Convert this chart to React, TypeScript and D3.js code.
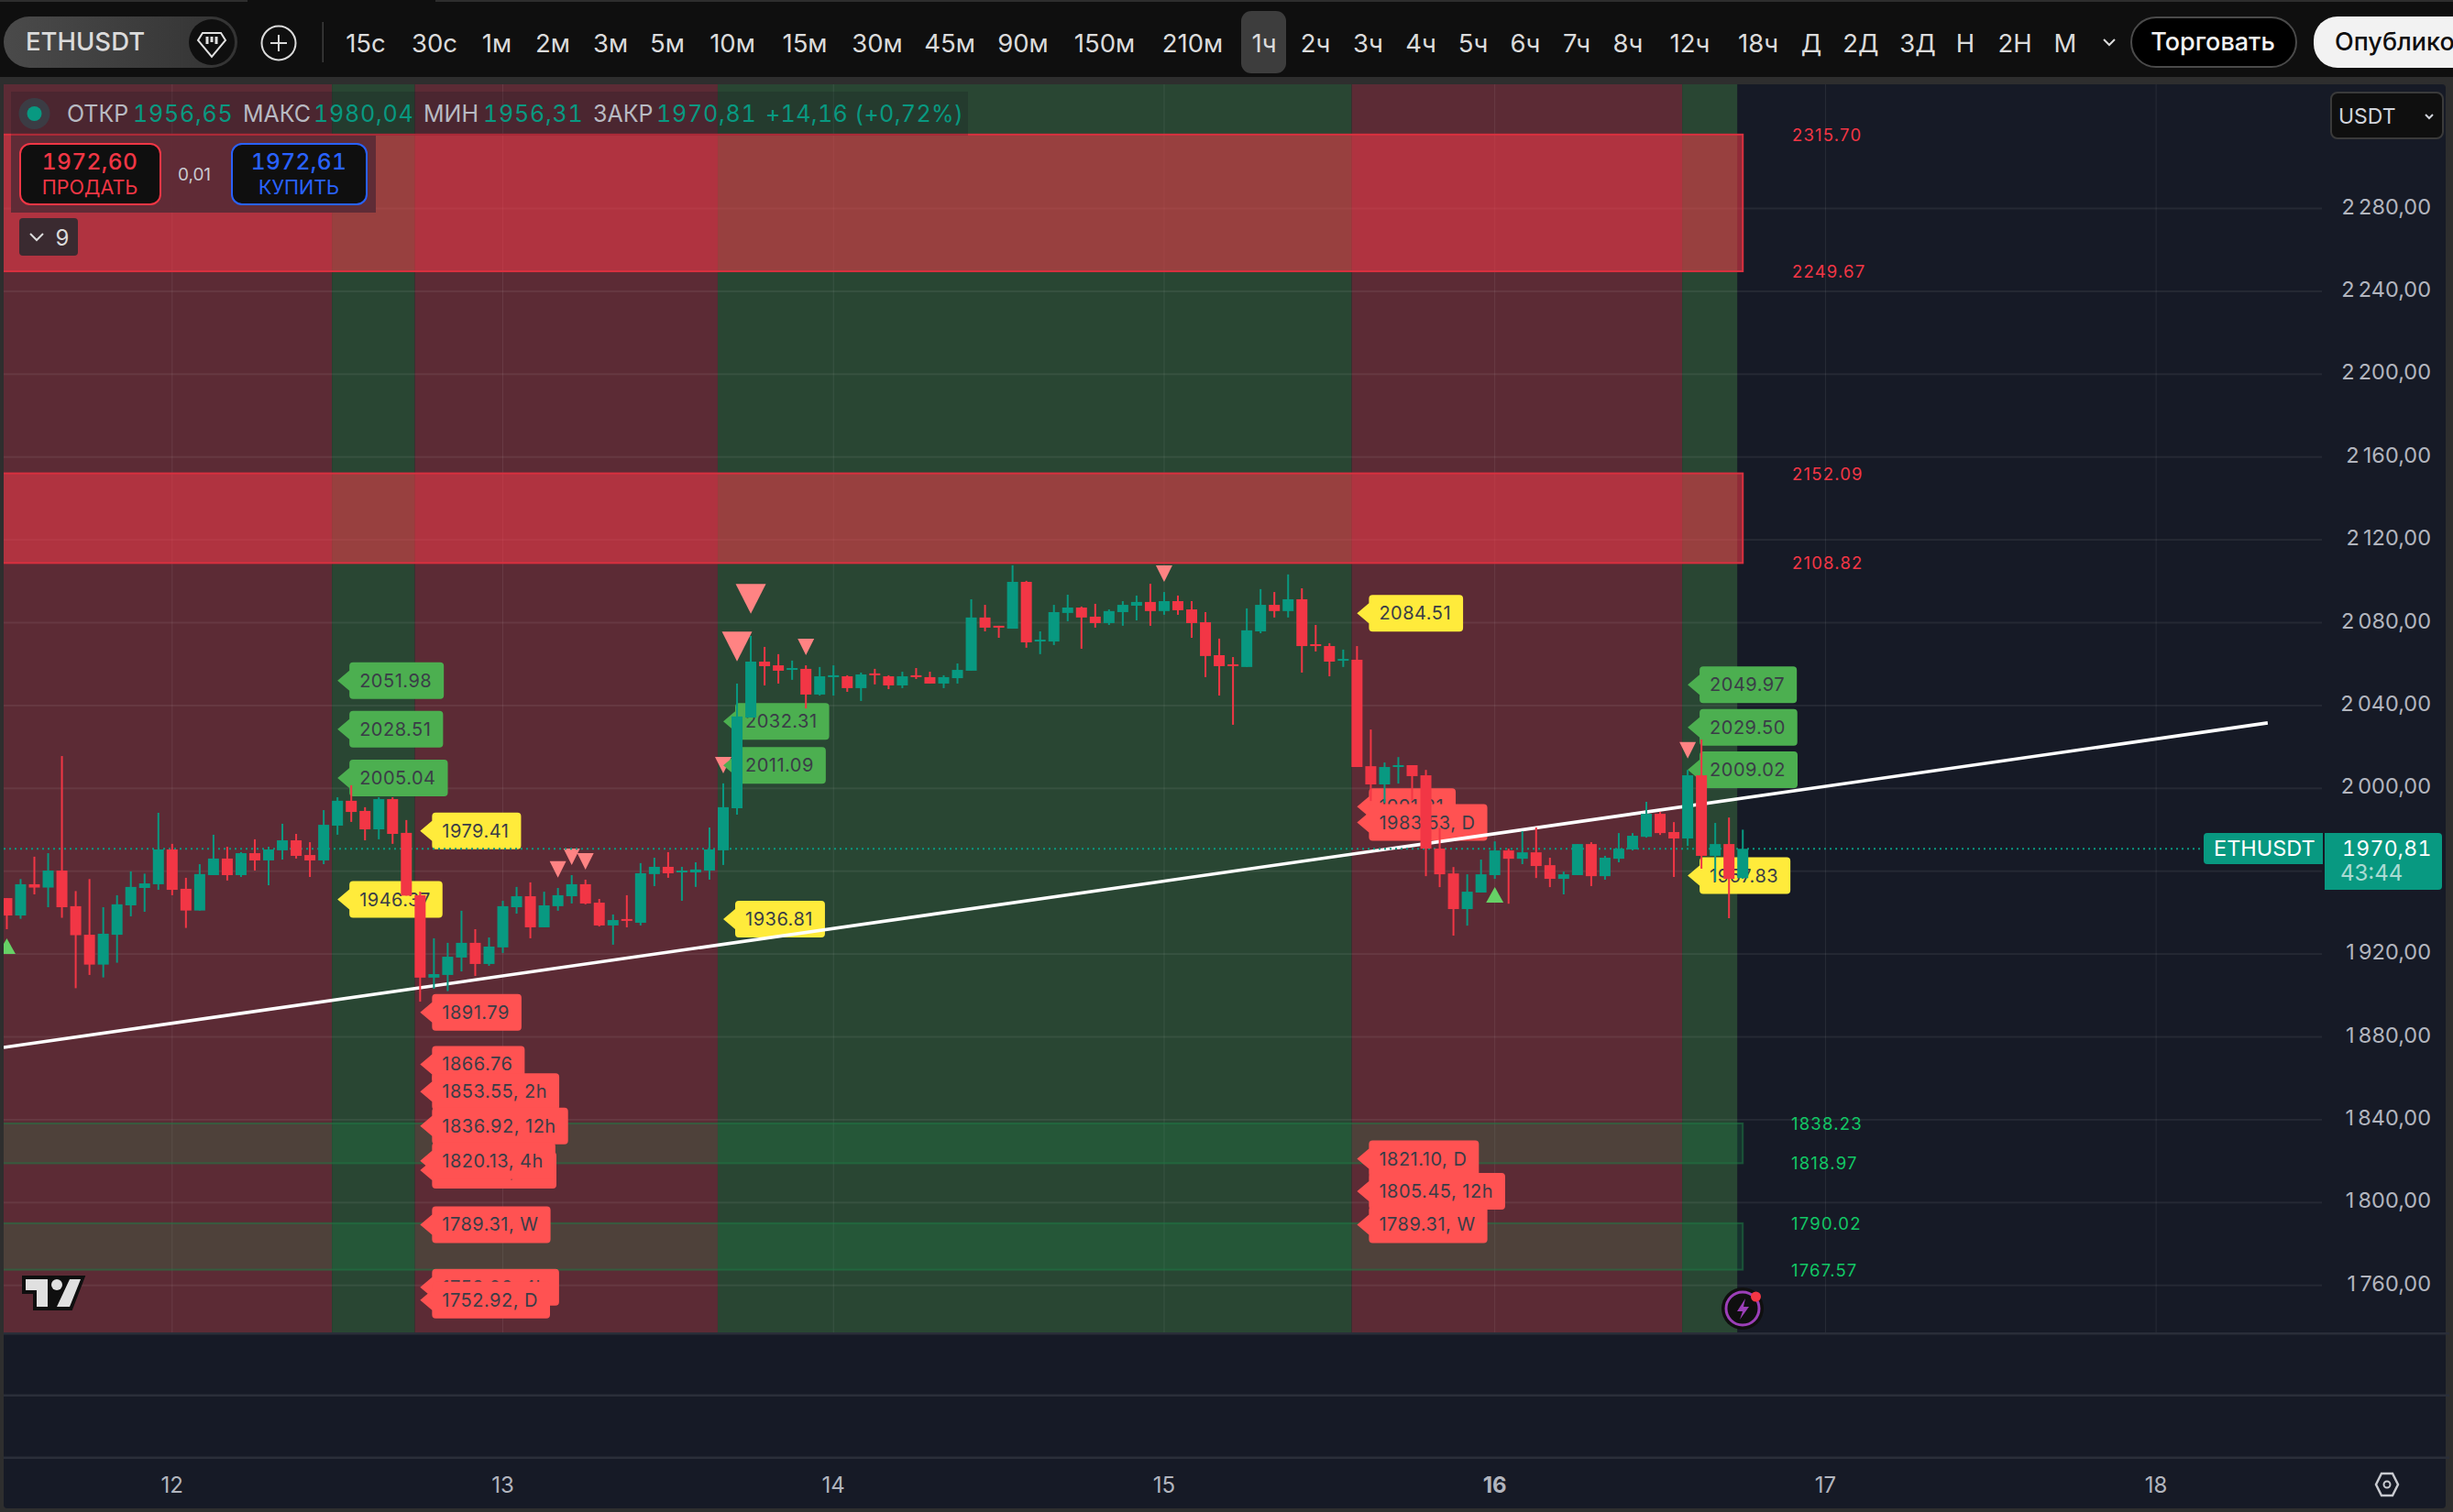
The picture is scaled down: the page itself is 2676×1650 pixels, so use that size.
import React from "react";
import * as d3 from "d3";

const W = 2676, H = 1650;
const FONT = "Inter, Roboto, sans-serif";

// hours since day 12 00:00 of the first candle
const firstBar = -12;
const candleOpen = [1947.0,1938.6,1953.7,1952.1,1960.3,1943.1,1929.3,1914.9,1929.3,1943.5,1951.9,1953.7,1970.5,1951.5,1941.0,1958.1,1966.1,1958.1,1968.7,1965.2,1970.1,1974.9,1967.8,1965.2,1982.0,1994.0,1989.1,1980.2,1994.8,1978.5,1948.4,1908.6,1909.9,1918.3,1925.4,1915.2,1923.2,1942.6,1947.9,1932.9,1943.1,1947.9,1953.7,1944.8,1933.8,1936.9,1935.1,1958.6,1962.1,1959.4,1959.4,1960.3,1970.1,1990.4,2034.2,2061.2,2059.4,2057.2,2057.7,2045.3,2053.7,2054.1,2048.4,2055.5,2054.1,2049.7,2054.6,2053.7,2050.6,2053.2,2056.8,2082.5,2078.5,2077.1,2099.7,2070.9,2070.9,2084.7,2087.3,2082.9,2079.8,2085.1,2088.2,2090.0,2085.6,2090.4,2086.4,2080.2,2064.3,2059.9,2058.6,2075.8,2088.6,2085.6,2091.3,2069.6,2068.7,2061.7,2062.1,2010.7,2001.9,2010.3,2011.2,2006.3,1970.9,1958.9,1941.7,1949.7,1958.1,1970.0,1966.0,1969.1,1962.9,1956.3,1958.1,1973.1,1957.6,1966.0,1970.5,1976.6,1987.7,1978.9,1975.8,2006.3,1967.4,1973.1,1956.65];
const candleHigh = [1947.0,1956.2,1967.0,1968.7,2015.6,1950.4,1956.2,1942.6,1948.4,1959.9,1958.8,1988.2,1973.2,1956.8,1963.4,1977.6,1971.8,1969.2,1975.4,1971.8,1982.9,1978.0,1974.0,1989.5,1995.7,2001.5,1990.9,1995.7,1995.7,1984.7,1950.1,1927.6,1925.4,1940.9,1932.0,1928.0,1945.7,1952.4,1954.6,1950.1,1951.9,1958.1,1955.9,1946.6,1939.1,1948.4,1963.9,1966.5,1969.2,1962.1,1964.3,1981.1,2002.4,2050.6,2073.6,2068.3,2064.8,2061.7,2059.4,2058.6,2059.4,2054.6,2055.9,2057.7,2054.6,2056.3,2058.1,2056.3,2054.6,2060.3,2091.3,2088.6,2078.5,2107.7,2100.2,2075.8,2088.6,2093.5,2087.8,2089.1,2086.4,2090.4,2093.1,2098.8,2094.8,2093.1,2090.4,2085.1,2072.3,2063.4,2086.9,2096.2,2094.8,2103.3,2096.6,2078.9,2070.1,2067.0,2068.7,2028.4,2012.5,2015.1,2011.2,2008.9,1980.9,1962.0,1958.5,1965.6,1974.4,1970.9,1979.3,1981.1,1966.5,1959.8,1973.1,1974.0,1967.4,1978.4,1978.4,1993.5,1988.6,1983.7,2008.9,2023.6,1983.3,1985.9,1980.04];
const candleLow = [1932.0,1937.0,1948.8,1942.6,1937.5,1903.5,1909.9,1908.7,1915.8,1938.2,1940.4,1951.0,1948.4,1932.6,1941.0,1958.1,1955.5,1957.2,1960.3,1953.2,1965.6,1966.1,1957.2,1963.4,1977.6,1983.8,1974.9,1975.4,1973.2,1948.2,1897.0,1903.2,1902.1,1911.6,1909.4,1914.3,1920.5,1939.5,1927.6,1932.9,1940.9,1944.4,1944.0,1933.3,1924.5,1932.9,1933.8,1952.8,1956.8,1945.7,1952.4,1955.9,1963.0,1987.3,2034.2,2049.7,2050.6,2052.4,2038.6,2044.8,2044.8,2046.6,2042.2,2050.2,2047.9,2048.4,2052.8,2050.6,2048.4,2050.6,2056.8,2075.8,2072.7,2077.1,2067.9,2064.8,2069.2,2080.7,2067.4,2077.6,2078.9,2078.5,2081.1,2078.5,2083.8,2083.8,2072.7,2053.7,2044.8,2030.7,2058.6,2074.9,2082.5,2082.5,2055.9,2066.1,2054.1,2058.6,2010.3,1993.9,1993.0,2002.3,1994.2,1957.6,1952.3,1928.9,1933.7,1949.7,1956.3,1944.3,1963.4,1956.7,1952.3,1948.8,1958.1,1952.8,1955.9,1964.3,1970.0,1976.2,1977.5,1957.2,1972.2,1961.2,1955.0,1937.3,1956.31];
const candleClose = [1938.6,1953.7,1952.1,1960.3,1942.6,1929.1,1914.9,1929.8,1944.0,1952.4,1954.1,1970.5,1951.0,1941.0,1958.6,1966.1,1958.1,1968.7,1965.2,1970.5,1974.9,1967.4,1965.2,1982.4,1994.0,1988.6,1980.2,1994.8,1978.0,1948.2,1908.6,1910.3,1918.7,1925.4,1915.2,1923.6,1943.1,1947.9,1932.9,1943.5,1948.4,1953.7,1944.4,1933.8,1936.4,1936.0,1959.0,1962.1,1959.0,1960.3,1960.8,1970.5,1990.9,2034.7,2061.2,2059.0,2056.8,2058.1,2045.3,2054.1,2054.6,2048.4,2055.0,2054.6,2049.7,2054.1,2053.7,2050.6,2053.7,2057.2,2082.5,2077.6,2077.6,2099.7,2070.5,2071.8,2085.1,2087.3,2082.5,2079.8,2085.6,2088.6,2090.0,2085.6,2090.4,2086.0,2079.8,2063.9,2059.0,2059.0,2076.3,2088.6,2085.6,2091.3,2068.7,2068.7,2061.2,2062.5,2010.3,2001.9,2010.3,2011.2,2005.9,1970.9,1958.5,1941.7,1950.1,1958.5,1970.0,1966.0,1969.1,1962.5,1956.3,1958.5,1973.1,1957.6,1966.5,1970.9,1977.1,1987.7,1978.4,1975.8,2006.3,1967.4,1973.1,1956.3,1970.81];

const priceTicks = [2280,2240,2200,2160,2120,2080,2040,2000,1960,1920,1880,1840,1800,1760];
const dayHours = [0,24,48,72,96,120,144];
const dayLabels = ["12","13","14","15","16","17","18"];
const lastPrice = 1970.81;

// market state strips, [first hour, last hour]
const greenStrips = [[12,17],[40,85],[110,113]];
const redStrips = [[-13,11],[18,39],[86,109]];

const redZones = [[2315.70,2249.67],[2152.09,2108.82]];
const greenZones = [[1838.23,1818.97],[1790.02,1767.57]];
const zoneEndHour = 114;
const redZoneTexts = [[2315.70,"2315.70"],[2249.67,"2249.67"],[2152.09,"2152.09"],[2108.82,"2108.82"]];
const greenZoneTexts = [[1838.23,"1838.23"],[1818.97,"1818.97"],[1790.02,"1790.02"],[1767.57,"1767.57"]];

const trendHours = [-12.23,152.1];
const trendPrices = [1874.9,2031.6];

const greenTags = [[12,2051.98,"2051.98"],[12,2028.51,"2028.51"],[12,2005.04,"2005.04"],[40,2032.31,"2032.31"],[40,2011.09,"2011.09"],[110,2049.97,"2049.97"],[110,2029.50,"2029.50"],[110,2009.02,"2009.02"]];
const yellowTags = [[18,1979.41,"1979.41"],[12,1946.37,"1946.37"],[40,1936.81,"1936.81"],[86,2084.51,"2084.51"],[110,1957.83,"1957.83"]];
const redTags = [[18,1891.79,"1891.79"],[18,1866.76,"1866.76"],[18,1853.55,"1853.55, 2h"],[18,1836.92,"1836.92, 12h"],[18,1815.60,"1815.60, 4h"],[18,1820.13,"1820.13, 4h"],[18,1789.31,"1789.31, W"],[18,1759.06,"1759.06, 4h"],[18,1752.92,"1752.92, D"],[86,1991.21,"1991.21"],[86,1983.53,"1983.53, D"],[86,1821.10,"1821.10, D"],[86,1805.45,"1805.45, 12h"],[86,1789.31,"1789.31, W"]];

// triangles: hour, tip price, big?
const downMarks = [[28,1956.9,0],[29,1963.0,0],[30,1960.8,0],[40,2007.2,0],[41,2061.3,1],[42,2084.3,1],[46,2064.3,0],[72,2099.7,0],[110,2014.4,0]];
const upMarks = [[-12,1927.6],[96,1952.3]];

const intervals = [["15с",399],["30с",474],["1м",542],["2м",603],["3м",666],["5м",728],["10м",799],["15м",878],["30м",957],["45м",1036],["90м",1116],["150м",1205],["210м",1301],["1ч",1379],["2ч",1435],["3ч",1492.5],["4ч",1550],["5ч",1607],["6ч",1664],["7ч",1720],["8ч",1776],["12ч",1843.5],["18ч",1918],["Д",1976],["2Д",2030],["3Д",2092],["Н",2144],["2Н",2198],["М",2253]];
const legendParts = [["ОТКР",73,"#b8bac2",0],["1956,65",145,"#089981",0.8],["МАКС",265,"#b8bac2",0],["1980,04",342,"#089981",0.8],["МИН",462,"#b8bac2",0],["1956,31",527,"#089981",0.8],["ЗАКР",647,"#b8bac2",0],["1970,81",716,"#089981",0.8],["+14,16 (+0,72%)",835,"#089981",0.4]];

const UP = "#089981", DOWN = "#f23645";
const paneL = 4, paneR = 2533, paneT = 92, paneB = 1454;

const x = d3.scaleLinear().domain([0, 144]).range([187.8, 187.8 + 15.03 * 144]);
const y = d3.scaleLinear().domain([1760, 2280]).range([1402.7, 227.5]);

const ctx = typeof document !== "undefined" ? document.createElement("canvas").getContext("2d") : null;
const TAG_SPACING = 0.5;
function textW(s: string) {
  if (!ctx) return s.length * 11;
  ctx.font = `20px ${FONT}`;
  return ctx.measureText(s).width + s.length * TAG_SPACING;
}

function Tag({ t, p, s, fill }: any) {
  const tx = x(t), ty = y(p);
  const b = tx + 13, w = textW(s) + 24, h = 20;
  const r = 4;
  const d = `M${b + r},${ty - h} H${b + w - r} Q${b + w},${ty - h} ${b + w},${ty - h + r} V${ty + h - r} Q${b + w},${ty + h} ${b + w - r},${ty + h} H${b + r} Q${b},${ty + h} ${b},${ty + h - r} V${ty + 11} L${tx},${ty} L${b},${ty - 11} V${ty - h + r} Q${b},${ty - h} ${b + r},${ty - h} Z`;
  return (
    <g>
      <path d={d} fill={fill} />
      <text x={b + 11} y={ty + 7} fontSize={20} letterSpacing={TAG_SPACING} fill="#3a3d47" fontFamily={FONT}>{s}</text>
    </g>
  );
}

export default function App() {
  const bars = candleOpen.map((o, i) => ({ t: firstBar + i, o, h: candleHigh[i], l: candleLow[i], c: candleClose[i] }));
  const bw = 12;
  const trend = d3.line<number>().x((d) => x(d)).y((_, i) => y(trendPrices[i]))(trendHours) || "";
  const stripX = (h0: number, h1: number) => {
    const a = Math.max(paneL, x(h0 - 0.5) + 1.5);
    const b = x(h1 + 0.5) + 1.5;
    return { a, w: b - a };
  };
  const zoneR = x(zoneEndHour);
  return (
    <svg width={W} height={H} viewBox={`0 0 ${W} ${H}`} style={{ position: "fixed", left: 0, top: 0, display: "block" }} fontFamily={FONT}>
      <defs>
        <clipPath id="pane"><rect x={paneL} y={paneT} width={paneR - paneL} height={paneB - paneT} /></clipPath>
        <linearGradient id="pill" x1="0" x2="1" y1="0" y2="0"><stop offset="0" stopColor="#4a4a4a" /><stop offset="1" stopColor="#333" /></linearGradient>
      </defs>
      <rect width={W} height={H} fill="#2e2e2e" />
      {/* toolbar */}
      <rect x={0} y={2} width={W} height={82} fill="#0f0f0f" />
      <rect x={270} y={0} width={205} height={3} fill="#0f0f0f" />
      <rect x={4} y={18} width={255} height={56} rx={28} fill="url(#pill)" />
      <text x={28} y={55} fontSize={27.5} fontWeight={500} fill="#dbdbdb">ETHUSDT</text>
      <circle cx={231} cy={46} r={25} fill="#0f0f0f" />
      <path d="M221,36 H241 L246,44 L231,62 L216,44 Z" fill="none" stroke="#e0e0e0" strokeWidth={2} />
      <path d="M226,40 V48 M236,40 V48 M231,40 V46" stroke="#e0e0e0" strokeWidth={3} fill="none" />
      <circle cx={304} cy={47} r={18.5} fill="none" stroke="#dbdbdb" strokeWidth={2} />
      <path d="M304,38 V56 M295,47 H313" stroke="#dbdbdb" strokeWidth={2} />
      <rect x={351.5} y={24} width={1.5} height={44} fill="#3d3d3d" />
      <rect x={1354} y={12} width={49} height={68} rx={11} fill="#3d3d3d" />
      {intervals.map(([s, cx]: any) => (
        <text key={s} x={cx} y={56.5} textAnchor="middle" fontSize={27.5} fill="#dbdbdb">{s}</text>
      ))}
      <path d="M2295,43 L2301,49 L2307,43" fill="none" stroke="#dbdbdb" strokeWidth={2} />
      <rect x={2325} y={19} width={180} height={54} rx={27} fill="#000" stroke="#4a4a4a" strokeWidth={2} />
      <text x={2414} y={55} textAnchor="middle" fontSize={27} fontWeight={500} fill="#f2f2f2">Торговать</text>
      <rect x={2524} y={18} width={220} height={56} rx={26} fill="#f2f2f2" />
      <text x={2547} y={55} fontSize={27} fontWeight={500} fill="#0f0f0f">Опубликовать</text>

      {/* panes */}
      <rect x={paneL} y={paneT} width={W - paneL - 8} height={H - paneT - 4} fill="#161a26" rx={4} />
      <g clipPath="url(#pane)">
        {redStrips.map(([a, b]) => { const s = stripX(a, b); return <rect key={a} x={s.a} y={paneT} width={s.w} height={paneB - paneT} fill="#5c2b35" />; })}
        {greenStrips.map(([a, b]) => { const s = stripX(a, b); return <rect key={a} x={s.a} y={paneT} width={s.w} height={paneB - paneT} fill="#294633" />; })}
        {priceTicks.map((p) => <rect key={p} x={paneL} y={y(p) - 1} width={paneR - paneL} height={2} fill="#ffffff" opacity={0.065} />)}
        {dayHours.map((h) => <rect key={h} x={x(h) - 0.5} y={paneT} width={1} height={paneB - paneT} fill="#ffffff" opacity={0.08} />)}

        {redZones.map(([a, b]) => <rect key={a} x={paneL - 4} y={y(a)} width={zoneR - paneL + 4} height={y(b) - y(a)} fill="#fb3a4a" fillOpacity={0.53} stroke="#d9303f" strokeWidth={2} />)}
        {greenZones.map(([a, b]) => <rect key={a} x={paneL - 4} y={y(a)} width={zoneR - paneL + 4} height={y(b) - y(a)} fill="#1a9c50" fillOpacity={0.2} stroke="#1f7a46" strokeOpacity={0.55} strokeWidth={2} />)}

        {downMarks.map(([t, p, big]) => {
          const hw = big ? 16.5 : 9, hh = big ? 32.5 : 18;
          const tx = x(t), ty = y(p);
          return <path key={t} d={`M${tx - hw},${ty - hh} H${tx + hw} L${tx},${ty} Z`} fill="#ff8383" />;
        })}
        {upMarks.map(([t, p]) => {
          const tx = x(t), ty = y(p);
          return <path key={t} d={`M${tx - 9.5},${ty + 17} H${tx + 9.5} L${tx},${ty} Z`} fill="#66d166" />;
        })}

        <g>
          {yellowTags.map(([t, p, s]: any) => <Tag key={s} t={t} p={p} s={s} fill="#ffeb3b" />)}
          {greenTags.map(([t, p, s]: any) => <Tag key={s} t={t} p={p} s={s} fill="#4caf50" />)}
          {redTags.map(([t, p, s]: any, i) => <Tag key={i} t={t} p={p} s={s} fill="#ff5252" />)}
        </g>
        <path d={trend} fill="none" stroke="#ffffff" strokeWidth={3.6} />
        <line x1={paneL} x2={paneR} y1={y(lastPrice)} y2={y(lastPrice)} stroke={UP} strokeWidth={2} strokeDasharray="2 4" />
        {bars.map((b) => {
          const col = b.c >= b.o ? UP : DOWN;
          const cx = x(b.t);
          const top = y(Math.max(b.o, b.c)), bot = y(Math.min(b.o, b.c));
          return (
            <g key={b.t}>
              <rect x={cx - 1} y={y(b.h)} width={2} height={y(b.l) - y(b.h)} fill={col} />
              <rect x={cx - bw / 2} y={top} width={bw} height={Math.max(2, bot - top)} fill={col} />
            </g>
          );
        })}
      </g>

      {redZoneTexts.map(([p, s]: any) => <text key={s} x={1955} y={y(p) + 7} fontSize={18.5} letterSpacing={1.2} fill="#f23645">{s}</text>)}
      {greenZoneTexts.map(([p, s]: any) => <text key={s} x={1954} y={y(p) + 7} fontSize={18.5} letterSpacing={1.2} fill="#12c765">{s}</text>)}

      {/* logo */}
      <path d="M24,1392 H93.3 L78.7,1430 H36 V1412 H24 Z" fill="#0f0f0f" />
      <path d="M28,1396 H52 V1426 H40 V1408 H28 Z" fill="#e0e0e0" />
      <circle cx={62} cy={1402} r={6} fill="#e0e0e0" />
      <path d="M76,1396 H88 L76,1426 H62 Z" fill="#e0e0e0" />

      {/* legend */}
      <rect x={12} y={100} width={1044} height={48} fill="#131722" opacity={0.22} />
      <circle cx={37.5} cy={124} r={17} fill="#3a3f47" opacity={0.9} />
      <circle cx={37.5} cy={124} r={8} fill={UP} />
      {legendParts.map(([s, lx, c, ls]: any) => <text key={lx} x={lx} y={133} fontSize={25} letterSpacing={ls} fill={c} style={{ fontVariantNumeric: "tabular-nums" }}>{s}</text>)}
      <rect x={12} y={148} width={398} height={84} fill="#5c2b36" opacity={0.95} />
      <rect x={22} y={157} width={153} height={66} rx={11} fill="#0f0f0f" stroke="#f23645" strokeWidth={2} />
      <text x={98} y={185} textAnchor="middle" fontSize={24.5} letterSpacing={0.4} fontWeight={500} fill="#f23645" style={{ fontVariantNumeric: "tabular-nums" }}>1972,60</text>
      <text x={98} y={212} textAnchor="middle" fontSize={21.5} fill="#f23645">ПРОДАТЬ</text>
      <text x={212} y={197} textAnchor="middle" fontSize={19} fill="#c8cad0">0,01</text>
      <rect x={253} y={157} width={147} height={66} rx={11} fill="#0f0f0f" stroke="#2962ff" strokeWidth={2} />
      <text x={326} y={185} textAnchor="middle" fontSize={24.5} letterSpacing={0.4} fontWeight={500} fill="#2962ff" style={{ fontVariantNumeric: "tabular-nums" }}>1972,61</text>
      <text x={326} y={212} textAnchor="middle" fontSize={21.5} fill="#2962ff">КУПИТЬ</text>
      <rect x={21} y={238} width={64} height={41} rx={4} fill="#3a2a30" />
      <path d="M33,255 L40,262 L47,255" fill="none" stroke="#dbdbdb" strokeWidth={2} />
      <text x={68} y={268} textAnchor="middle" fontSize={24} fill="#dbdbdb">9</text>

      {/* currency */}
      <rect x={2543} y={101} width={122} height={50} rx={7} fill="#0f0f0f" stroke="#3a3a3a" strokeWidth={2} />
      <text x={2551} y={135} fontSize={23} fill="#d1d4dc">USDT</text>
      <path d="M2646,125 L2650,129 L2654,125" fill="none" stroke="#d1d4dc" strokeWidth={2} />

      {/* price axis */}
      {priceTicks.map((p) => (
        <text key={p} x={2652} y={y(p) + 6} textAnchor="end" fontSize={23.5} fill="#b2b5be">{d3.format(",.2f")(p).replace(",", "\u2009").replace(".", ",")}</text>
      ))}
      <path d="M2404,913 a4,4 0 0 1 4,-4 H2534 V943 H2408 a4,4 0 0 1 -4,-4 Z" fill={UP} />
      <text x={2415} y={934} fontSize={23.5} fill="#fff">ETHUSDT</text>
      <path d="M2536,909 H2660 a4,4 0 0 1 4,4 V967 a4,4 0 0 1 -4,4 H2536 Z" fill={UP} />
      <text x={2555} y={934} fontSize={23} letterSpacing={0.3} fill="#fff" style={{ fontVariantNumeric: "tabular-nums" }}>1970,81</text>
      <text x={2553} y={961} fontSize={24} fill="#fff" opacity={0.65}>43:44</text>

      {/* lightning */}
      <circle cx={1901} cy={1428} r={23} fill="#0f0f0f" />
      <circle cx={1901} cy={1428} r={18} fill="none" stroke="#9c3fb8" strokeWidth={3} />
      <path d="M1904,1417 L1895,1431 H1901 L1898,1440 L1908,1426 H1902 Z" fill="#9c3fb8" />
      <circle cx={1915.5} cy={1415} r={5.5} fill="#f23645" />

      {/* separators */}
      <rect x={paneL} y={paneB} width={W - paneL - 4} height={2.5} fill="#2a2e39" />
      <rect x={paneL} y={1521.5} width={W - paneL - 4} height={2.5} fill="#2a2e39" />
      <rect x={paneL} y={1589.5} width={W - paneL - 4} height={2.5} fill="#2a2e39" />

      {/* time axis */}
      {dayHours.map((h, i) => (
        <text key={h} x={x(h)} y={1629} textAnchor="middle" fontSize={24} fontWeight={dayLabels[i] === "16" ? 700 : 400} fill="#b2b5be">{dayLabels[i]}</text>
      ))}
      <path d="M2592,1620 L2598,1608 H2610 L2616,1620 L2610,1632 H2598 Z" fill="none" stroke="#c8cad0" strokeWidth={2.5} />
      <circle cx={2604} cy={1620} r={3.5} fill="none" stroke="#c8cad0" strokeWidth={2} />
      <rect x={0} y={1646.5} width={W} height={3.5} fill="#2e2e2e" />
    </svg>
  );
}
